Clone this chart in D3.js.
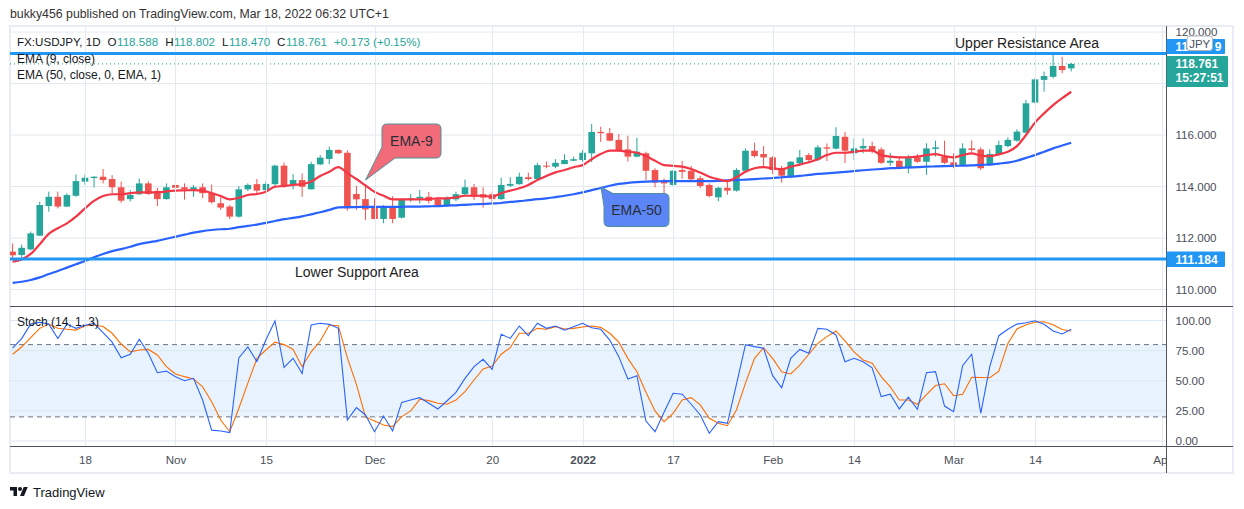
<!DOCTYPE html>
<html><head><meta charset="utf-8">
<script src="https://cdn.jsdelivr.net/npm/d3@7"></script>
<style>
html,body{margin:0;padding:0;background:#fff;}
svg text{font-family:"Liberation Sans",Arial,sans-serif;}
</style></head><body>
<svg id="chart" width="1244" height="509"></svg>
<script>
// ---------- DATA ----------
const startDate = "2021-10-06";           // first visible daily bar (weekdays only)
const opens = [111.47,111.34,111.56,112.09,113.24,113.60,113.22,113.64,114.19,114.33,
114.38,114.29,113.97,113.51,113.70,114.12,113.83,113.51,114.06,113.97,
113.90,113.97,113.76,113.35,113.22,112.83,113.89,114.09,113.86,114.09,
114.81,114.09,114.25,113.89,114.86,115.07,115.42,115.31,113.71,113.51,
113.19,112.74,113.19,112.79,113.48,113.53,113.60,113.50,113.25,113.50,
113.70,113.97,113.70,113.70,113.51,114.03,114.09,114.36,114.29,114.81,
114.77,114.87,115.00,115.03,115.29,116.12,116.07,115.81,115.44,115.16,
115.29,114.64,114.19,114.06,114.64,114.61,114.32,114.06,113.58,113.95,
113.84,114.61,115.39,115.26,115.13,114.71,114.41,114.90,115.22,115.05,
115.52,115.47,115.93,115.29,115.48,115.57,115.44,114.92,115.00,114.71,
115.13,114.96,115.46,115.16,114.94,114.84,115.48,115.44,114.84,115.26,
115.57,115.78,116.09,117.26,118.14,118.26,118.68,118.588];
const highs = [111.79,111.74,112.25,113.41,113.80,113.80,113.74,114.47,114.47,114.40,
114.68,114.44,114.19,113.86,114.31,114.19,113.95,114.12,114.47,114.12,
114.06,114.12,114.08,113.60,113.28,114.02,114.12,114.29,114.19,114.85,
114.93,114.48,114.51,114.96,115.22,115.55,115.44,115.40,114.03,114.08,
113.54,113.28,113.62,113.54,113.71,113.86,113.79,113.60,113.62,113.80,
114.27,114.10,113.97,113.80,114.34,114.36,114.54,114.54,114.92,114.97,
115.06,115.25,115.16,115.41,116.43,116.32,116.27,116.04,115.97,115.89,
115.35,114.71,114.31,114.64,114.99,114.80,114.41,114.12,113.99,114.21,
114.71,115.48,115.70,115.57,115.18,114.80,114.99,115.42,115.30,115.61,
115.67,116.30,116.12,115.87,115.87,115.74,115.52,115.31,115.16,115.22,
115.26,115.68,115.78,115.78,115.29,115.68,115.79,115.52,115.44,115.78,
115.91,116.22,117.36,118.20,118.46,119.11,119.04,118.802];
const lows = [111.21,111.24,111.52,112.08,113.02,113.15,113.20,113.60,114.06,113.96,
114.12,113.74,113.37,113.42,113.67,113.67,113.24,113.49,113.74,113.49,
113.60,113.55,113.34,113.09,112.74,112.79,113.82,113.72,113.80,113.98,
113.95,113.89,113.60,113.89,114.83,114.87,115.26,113.06,113.10,112.70,
112.73,112.57,112.57,112.76,113.40,113.34,113.34,113.21,113.21,113.43,
113.67,113.48,113.18,113.32,113.48,113.98,114.07,114.23,114.25,114.71,
114.71,114.87,114.98,114.96,114.95,115.73,115.75,115.35,114.97,115.13,
114.25,113.97,113.34,114.02,114.30,114.19,113.93,113.58,113.43,113.68,
113.80,114.57,115.13,114.77,114.49,114.15,114.32,114.87,114.90,114.99,
114.99,115.44,114.91,115.03,115.29,115.29,114.87,114.80,114.67,114.51,
114.92,114.45,115.16,114.87,114.71,114.80,115.35,114.64,114.80,115.22,
115.52,115.74,116.07,117.23,117.68,118.20,118.40,118.470];
const closes = [111.33,111.62,112.18,113.28,113.60,113.22,113.67,114.21,114.34,114.38,
114.25,113.97,113.45,113.67,114.12,113.71,113.51,113.97,113.95,113.90,
113.97,113.74,113.39,113.18,112.83,113.89,114.06,113.84,114.10,114.81,
113.99,114.25,113.99,114.87,115.12,115.42,115.29,113.15,113.50,113.11,
112.74,113.19,112.74,113.48,113.54,113.60,113.44,113.28,113.54,113.70,
113.97,113.60,113.57,113.51,114.06,114.10,114.38,114.29,114.83,114.77,
114.92,115.03,115.06,115.31,116.12,116.07,115.78,115.39,115.16,115.35,
114.61,114.15,114.12,114.61,114.57,114.28,114.02,113.63,113.95,113.84,
114.64,115.39,115.18,115.13,114.64,114.42,114.96,115.13,115.03,115.52,
115.47,115.96,115.39,115.48,115.57,115.39,114.92,115.00,114.71,115.10,
114.96,115.48,115.52,114.92,114.79,115.48,115.42,114.71,115.26,115.61,
115.81,116.13,117.23,118.16,118.29,118.68,118.52,118.761];
const ema9 = [111.08,111.17,111.38,111.76,112.16,112.38,112.57,112.83,113.15,113.44,
113.63,113.70,113.70,113.74,113.77,113.77,113.77,113.81,113.84,113.85,
113.86,113.84,113.74,113.63,113.50,113.56,113.67,113.71,113.80,113.99,
114.02,114.06,114.09,114.19,114.41,114.57,114.75,114.52,114.29,114.04,
113.79,113.64,113.50,113.50,113.50,113.50,113.51,113.54,113.54,113.58,
113.64,113.64,113.64,113.60,113.74,113.84,113.93,114.06,114.25,114.41,
114.55,114.64,114.75,114.83,115.06,115.26,115.39,115.39,115.35,115.31,
115.18,115.00,114.83,114.80,114.77,114.68,114.54,114.38,114.28,114.21,
114.36,114.57,114.71,114.75,114.71,114.67,114.77,114.85,114.94,115.06,
115.22,115.31,115.31,115.35,115.39,115.39,115.22,115.16,115.13,115.13,
115.16,115.22,115.26,115.18,115.13,115.22,115.29,115.20,115.18,115.25,
115.35,115.57,116.00,116.48,116.84,117.16,117.43,117.68];
const ema50 = [110.26,110.30,110.37,110.47,110.60,110.72,110.85,110.98,111.11,111.25,
111.38,111.49,111.57,111.66,111.76,111.83,111.89,111.97,112.05,112.13,
112.21,112.27,112.31,112.34,112.36,112.42,112.47,112.52,112.59,112.66,
112.73,112.78,112.84,112.92,113.00,113.09,113.19,113.20,113.20,113.21,
113.21,113.21,113.21,113.21,113.22,113.22,113.23,113.24,113.26,113.27,
113.29,113.31,113.32,113.34,113.36,113.40,113.43,113.47,113.51,113.54,
113.59,113.64,113.70,113.77,113.86,113.94,114.03,114.10,114.14,114.17,
114.19,114.20,114.21,114.21,114.21,114.21,114.21,114.21,114.22,114.24,
114.25,114.27,114.29,114.31,114.33,114.36,114.38,114.41,114.45,114.49,
114.51,114.54,114.57,114.60,114.63,114.66,114.68,114.71,114.72,114.74,
114.75,114.77,114.78,114.79,114.80,114.81,114.82,114.84,114.85,114.89,
114.93,115.00,115.11,115.22,115.35,115.48,115.59,115.70];
const stochK = [77,85,97,98.5,97,85,97,93.5,96,97.7,
90,82,69,72,84.4,72.8,56.7,58,53.4,50,
52,34,9,8.3,7,69,78,66,84,99.6,
61,68.6,56,96.3,97.7,96.8,93.5,17.4,27.7,21.6,
7.7,20.7,8.3,32,34,36,31.3,26.6,33.2,40.4,
52,61.7,67.8,59.5,88.5,85.2,95.4,87.4,97.7,93.5,
95.4,92,94.9,97.7,94,92.7,83.8,70,51.5,54.2,
16.6,7.7,23.8,39.6,38.8,30.5,21.6,6.4,16,14.7,
47,80,78.3,77,54.2,44.2,68.6,76,72.8,93.5,
92.7,88,65.8,68.6,65.8,60.8,36.8,38.8,26.6,36.3,
26.3,56.7,57.5,29,24.3,62.5,72,23,61.7,87.4,
92.7,97,98.2,99.8,96.8,91.3,88.8,92.7];
const stochD = [72,78,85.7,93.5,97,93.5,92.7,92,95.7,96.3,
95,89.4,80.5,74,75.5,76,71.4,61.7,55.6,53.4,
51.5,45,32.6,17.4,7.7,27,48,68.6,75.5,82,
80,76,61.7,74,83,96.3,95.7,69,47,20,
16.6,13.3,12,20.2,25,34.6,33.5,31.3,30.5,34,
41,50.6,59.8,62.2,72,77.4,89.4,89.4,93.5,92.7,
94.9,93,93.5,94.6,95.4,94.3,89.4,82,68.6,57.5,
40.4,25,16,23,34,36,30,18.8,14.7,12.7,
25.7,48,68.6,77.4,68.6,57.5,55.6,63,72,81,
86.6,91.3,83,74,67.2,64.5,53.4,45,34,34,
30.5,38.5,46,47.5,37.6,38.8,52.9,52.7,52.5,58,
81,93,96.5,98.5,99,96.5,92.5,91.3];
const priceTicks = [110,112,114,116,118,120];
const priceLabelTicks = [110,112,114,116,120];   // 118.000 sits hidden behind the last-price tag
const stochTicks = [0,25,50,75,100];
const timeTickDates = ["2021-10-18","2021-11-01","2021-11-15","2021-12-01","2021-12-20","2022-01-03","2022-01-17","2022-02-01","2022-02-14","2022-03-01","2022-03-14","2022-04-01"];
const timeTickLabels = ["18","Nov","15","Dec","20","2022","17","Feb","14","Mar","14","Apr"];
const supportLevel = 111.184, resistanceLevel = 119.169;
const resistanceTagVisible = ["11","9"];        // the middle digits are hidden by the JPY badge
const lastClose = 118.761;
const ohlcLegend = [["O","118.588"],["H","118.802"],["L","118.470"],["C","118.761"]];

// ---------- trading-day index ----------
function weekdayIndex(dStr){
  const s = new Date(startDate+"T00:00:00Z"), d = new Date(dStr+"T00:00:00Z");
  let n = 0; const c = new Date(s);
  while (c < d){ c.setUTCDate(c.getUTCDate()+1); const w=c.getUTCDay(); if(w!==0&&w!==6) n++; }
  return n;
}
const tickIdx = timeTickDates.map(weekdayIndex);

// ---------- layout ----------
const svg = d3.select('#chart');
const L = 10, AX = 1166.5, R = 1233, TOP = 26, SEP = 306.5, XAX = 446.5, BOT = 473;
const x = d3.scaleLinear().domain([0,127]).range([12.6, 12.6+9.048*127]);
const y = d3.scaleLinear().domain([110,120]).range([289.5,32]);
const ys = d3.scaleLinear().domain([0,100]).range([441,320.5]);
const GREEN = "#26a69a", RED = "#ef5350", GRID = "#e4eaf0", AXC = "#50535e", TXT="#4a4f5a";

const defs = svg.append("defs");
defs.append("clipPath").attr("id","cMain").append("rect").attr("x",L).attr("y",TOP).attr("width",AX-L).attr("height",SEP-TOP);
defs.append("clipPath").attr("id","cSto").append("rect").attr("x",L).attr("y",SEP).attr("width",AX-L).attr("height",XAX-SEP);
defs.append("clipPath").attr("id","cX").append("rect").attr("x",L).attr("y",XAX).attr("width",AX-L).attr("height",BOT-XAX);

// header
svg.append("text").attr("x",10).attr("y",18).attr("font-size",12.3).attr("fill","#333")
  .text("bukky456 published on TradingView.com, Mar 18, 2022 06:32 UTC+1");

// frame
svg.append("rect").attr("x",L).attr("y",TOP).attr("width",R-L).attr("height",BOT-TOP)
  .attr("fill","none").attr("stroke","#e9ecf2").attr("stroke-width",2);

// grids
const gMain = svg.append("g").attr("clip-path","url(#cMain)");
gMain.selectAll("line.h").data(priceTicks).join("line")
  .attr("x1",L).attr("x2",AX).attr("y1",d=>y(d)).attr("y2",d=>y(d)).attr("stroke",GRID);
svg.append("g").selectAll("line.v").data(tickIdx).join("line")
  .attr("x1",d=>Math.round(x(d))+0.5).attr("x2",d=>Math.round(x(d))+0.5).attr("y1",TOP).attr("y2",XAX).attr("stroke",GRID);

// stochastic background
const gSto = svg.append("g").attr("clip-path","url(#cSto)");
gSto.append("rect").attr("x",L).attr("width",AX-L).attr("y",ys(80)).attr("height",ys(20)-ys(80)).attr("fill","#e8f3fd");
gSto.selectAll("line.h").data(stochTicks).join("line")
  .attr("x1",L).attr("x2",AX).attr("y1",d=>ys(d)).attr("y2",d=>ys(d)).attr("stroke","#dbe7f2");
gSto.selectAll("line.b").data([80,20]).join("line")
  .attr("x1",L).attr("x2",AX).attr("y1",d=>ys(d)).attr("y2",d=>ys(d))
  .attr("stroke","#6f737d").attr("stroke-dasharray","5,4");

// candles
const idx = d3.range(opens.length);
const cg = gMain.append("g");
cg.selectAll("line.w").data(idx).join("line")
  .attr("x1",i=>x(i)).attr("x2",i=>x(i)).attr("y1",i=>y(highs[i])).attr("y2",i=>y(lows[i]))
  .attr("stroke",i=>closes[i]>=opens[i]?GREEN:RED).attr("stroke-width",1);
cg.selectAll("rect.b").data(idx).join("rect")
  .attr("x",i=>x(i)-3.3).attr("width",6.6)
  .attr("y",i=>y(Math.max(opens[i],closes[i])))
  .attr("height",i=>Math.max(1,Math.abs(y(opens[i])-y(closes[i]))))
  .attr("fill",i=>closes[i]>=opens[i]?GREEN:RED);

// EMAs
const lineE = arr => d3.line().x((d,i)=>x(i)).y(d=>y(d)).curve(d3.curveMonotoneX)(arr);
gMain.append("path").attr("d",lineE(ema50)).attr("fill","none").attr("stroke","#2962ff").attr("stroke-width",2.2);
gMain.append("path").attr("d",lineE(ema9)).attr("fill","none").attr("stroke","#f23645").attr("stroke-width",2.2);

// stochastic lines
const lineS = d3.line().x((d,i)=>x(i)).y(d=>ys(d));
gSto.append("path").attr("d",lineS(stochD)).attr("fill","none").attr("stroke","#ff6d00").attr("stroke-width",1.1);
gSto.append("path").attr("d",lineS(stochK)).attr("fill","none").attr("stroke","#2962ff").attr("stroke-width",1.1);

// last price dotted line
gMain.append("line").attr("x1",L).attr("x2",AX).attr("y1",y(lastClose)).attr("y2",y(lastClose))
  .attr("stroke",GREEN).attr("stroke-dasharray","1,3").attr("stroke-width",1);

// support / resistance
[supportLevel,resistanceLevel].forEach(v=>{
  svg.append("line").attr("x1",L).attr("x2",AX).attr("y1",y(v)).attr("y2",y(v))
    .attr("stroke","#2196f3").attr("stroke-width",3);
});
svg.append("text").attr("x",955).attr("y",48).attr("font-size",14).attr("fill","#222").text("Upper Resistance Area");
svg.append("text").attr("x",295).attr("y",277).attr("font-size",14).attr("fill","#222").text("Lower Support Area");

// callouts
svg.append("path").attr("d","M387,124 H436 Q441,124 441,129 V153 Q441,158 436,158 H395 L365.5,180 L382,147 V129 Q382,124 387,124 Z")
  .attr("fill","#f26b78").attr("stroke","#4f8f98").attr("stroke-width",1);
svg.append("text").attr("x",411.5).attr("y",146).attr("text-anchor","middle").attr("font-size",14).attr("fill","#2a2e39").text("EMA-9");
svg.append("path").attr("d","M613,193.5 H664 Q669,193.5 669,198.5 V221.5 Q669,226.5 664,226.5 H609 Q604,226.5 604,221.5 V206 L601,187 Z")
  .attr("fill","#5c86f5").attr("stroke","#4f8f98").attr("stroke-width",1);
svg.append("text").attr("x",636.5).attr("y",215).attr("text-anchor","middle").attr("font-size",14).attr("fill","#2a2e39").text("EMA-50");

// legend (laid out piece by piece)
const LEGFS = 11.6;
let lx = 17;
function legPiece(t, col, gapAfter){
  const el = svg.append("text").attr("x",lx).attr("y",46).attr("font-size",LEGFS).attr("fill",col).text(t);
  lx += el.node().getComputedTextLength() + gapAfter;
}
legPiece("FX:USDJPY, 1D", "#131722", 7);
ohlcLegend.forEach(([k,v])=>{ legPiece(k,"#131722",0.5); legPiece(v,GREEN,7); });
legPiece("+0.173 (+0.15%)", GREEN, 0);
svg.append("text").attr("x",17).attr("y",63).attr("font-size",12).attr("fill","#131722").text("EMA (9, close)");
svg.append("text").attr("x",17).attr("y",79).attr("font-size",12).attr("fill","#131722").text("EMA (50, close, 0, EMA, 1)");
svg.append("text").attr("x",17).attr("y",326).attr("font-size",12).attr("fill","#131722").text("Stoch (14, 1, 3)");

// axis lines
svg.append("line").attr("x1",L).attr("x2",R).attr("y1",SEP).attr("y2",SEP).attr("stroke",AXC);
svg.append("line").attr("x1",L).attr("x2",R).attr("y1",XAX).attr("y2",XAX).attr("stroke",AXC);
svg.append("line").attr("x1",AX).attr("x2",AX).attr("y1",TOP).attr("y2",BOT).attr("stroke",AXC);

// price axis
const pa = svg.append("g").attr("transform",`translate(${AX},0)`)
  .call(d3.axisRight(y).tickValues(priceLabelTicks).tickFormat(d3.format(".3f")).tickSize(0).tickPadding(9));
pa.select(".domain").remove();
pa.selectAll("text").attr("font-size",11.6).attr("fill",TXT).attr("font-family",null);
const sa = svg.append("g").attr("transform",`translate(${AX},0)`)
  .call(d3.axisRight(ys).tickValues(stochTicks).tickFormat(d3.format(".2f")).tickSize(0).tickPadding(9));
sa.select(".domain").remove();
sa.selectAll("text").attr("font-size",11.6).attr("fill",TXT).attr("font-family",null);

// time axis
const ta = svg.append("g").attr("clip-path","url(#cX)").append("g").attr("transform",`translate(0,${XAX})`)
  .call(d3.axisBottom(x).tickValues(tickIdx).tickFormat((d,i)=>timeTickLabels[i]).tickSize(0).tickPadding(9));
ta.select(".domain").remove();
ta.selectAll("text").attr("font-size",11.6).attr("fill",TXT).attr("font-family",null)
  .attr("font-weight",(d,i)=>timeTickLabels[i]==="2022"?"bold":null);

// price tags
function tagBox(yTop,h,w,fill){
  svg.append("rect").attr("x",AX).attr("y",yTop).attr("width",w).attr("height",h).attr("fill",fill).attr("rx",1);
}
function tagText(xp,yp,t,anchor){
  svg.append("text").attr("x",xp).attr("y",yp).attr("text-anchor",anchor||"start").attr("font-size",12)
    .attr("font-weight","bold").attr("fill","#fff").text(t);
}
tagBox(y(supportLevel)-7.5,15.5,58.5,"#2196f3");
tagText(AX+9, y(supportLevel)+4.5, d3.format(".3f")(supportLevel));
tagBox(39,15,58.5,"#2196f3");
tagText(AX+9, 51, resistanceTagVisible[0]);
tagText(AX+55, 51, resistanceTagVisible[1], "end");
tagBox(56,31,61.5,GREEN);
tagText(AX+9, 68, d3.format(".3f")(lastClose));
tagText(AX+9, 82, "15:27:51");
// currency badge
svg.append("rect").attr("x",1187).attr("y",36).attr("width",25.5).attr("height",14.5).attr("rx",3)
  .attr("fill","#fff").attr("stroke","#b2b5be");
svg.append("text").attr("x",1199.7).attr("y",47.5).attr("text-anchor","middle").attr("font-size",11.5).attr("fill","#4a4f5a").text("JPY");

// footer logo
const lg = svg.append("g").attr("transform","translate(10,485) scale(0.5)");
lg.append("path").attr("d","M14 22H7V11H0V4h14v18ZM28 22h-8l7.5-18h8L28 22Z").attr("fill","#131722");
lg.append("circle").attr("cx",20).attr("cy",8).attr("r",4).attr("fill","#131722");
svg.append("text").attr("x",33).attr("y",497).attr("font-size",13).attr("fill","#131722").text("TradingView");
</script>
</body></html>
